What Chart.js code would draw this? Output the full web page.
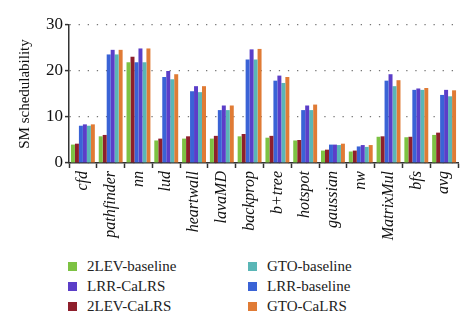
<!DOCTYPE html>
<html>
<head>
<meta charset="utf-8">
<script src="https://cdn.jsdelivr.net/npm/chart.js@4/dist/chart.umd.min.js"></script>
<style>
  html, body { margin: 0; padding: 0; background: #fff; }
  #wrap { position: relative; width: 474px; height: 334px; }
  #chart { position: absolute; left: 0; top: 0; }
  #legend { position: absolute; left: 0; top: 0; font-family: "Liberation Serif", serif; font-size: 15px; color: #222; }
  .item { position: absolute; white-space: nowrap; line-height: 16px; }
  .sw { display: inline-block; width: 9px; height: 9px; margin-right: 10px; vertical-align: 0px; }
</style>
</head>
<body>
<div id="wrap">
  <canvas id="chart" width="474" height="250"></canvas>
  <div id="legend"></div>
</div>
<script>
const categories = ['cfd', 'pathfinder', 'nn', 'lud', 'heartwall', 'lavaMD', 'backprop', 'b+tree', 'hotspot', 'gaussian', 'nw', 'MatrixMul', 'bfs', 'avg'];
const seriesNames = ['2LEV-baseline', '2LEV-CaLRS', 'LRR-baseline', 'LRR-CaLRS', 'GTO-baseline', 'GTO-CaLRS'];
const seriesColors = ['#7dc243', '#8e1f2c', '#3a63d6', '#5b3ec8', '#5ab6b6', '#e07b35'];
const lev2Base  = [4.0, 5.8, 21.9, 4.9, 5.3, 5.3, 5.8, 5.5, 4.9, 2.7, 2.5, 5.7, 5.6, 6.1];
const lev2Calrs = [4.2, 6.1, 23.1, 5.3, 5.8, 5.9, 6.3, 5.9, 5.0, 2.9, 2.7, 5.8, 5.7, 6.6];
const lrrBase   = [8.1, 23.6, 21.9, 18.7, 15.6, 11.5, 22.5, 17.9, 11.5, 4.0, 3.6, 17.9, 15.9, 14.8];
const lrrCalrs  = [8.4, 24.6, 24.9, 20.0, 16.7, 12.5, 24.7, 19.0, 12.5, 4.0, 3.9, 19.3, 16.2, 15.9];
const gtoBase   = [8.1, 23.6, 21.9, 18.2, 15.4, 11.5, 22.5, 17.4, 11.5, 3.9, 3.5, 16.7, 15.9, 14.5];
const gtoCalrs  = [8.4, 24.6, 24.9, 19.3, 16.7, 12.5, 24.8, 18.7, 12.7, 4.2, 3.9, 18.0, 16.3, 15.8];
const seriesValues = [lev2Base, lev2Calrs, lrrBase, lrrCalrs, gtoBase, gtoCalrs];
const yTicks = [0, 5, 10, 15, 20, 25, 30];
// legend is shown in two columns, column-major, in this order
const legendOrder = [0, 3, 1, 4, 2, 5];

const serif = '"Liberation Serif", "Times New Roman", serif';

new Chart(document.getElementById('chart'), {
  type: 'bar',
  data: {
    labels: categories,
    datasets: seriesNames.map((name, i) => ({
      label: name,
      data: seriesValues[i],
      backgroundColor: seriesColors[i],
      borderWidth: 0,
      categoryPercentage: 0.86,
      barPercentage: 1.0
    }))
  },
  options: {
    responsive: false,
    animation: false,
    layout: { padding: { top: 25, right: 16, left: 16, bottom: 0 } },
    plugins: { legend: { display: false }, tooltip: { enabled: false } },
    scales: {
      x: {
        afterFit: (s) => { s.height = 87; },
        grid: { drawOnChartArea: false, drawTicks: true, tickLength: 5, color: '#333', tickWidth: 1.5 },
        border: { color: '#333', width: 1.5 },
        ticks: {
          minRotation: 90, maxRotation: 90, autoSkip: false, padding: 3,
          color: '#111',
          font: { family: serif, size: 16, style: 'italic' }
        }
      },
      y: {
        min: 0, max: 30,
        afterFit: (s) => { s.width = 53; },
        afterBuildTicks: (s) => { s.ticks = yTicks.map((v) => ({ value: v })); },
        grid: { color: '#777', lineWidth: 1.2, tickLength: 4, tickColor: '#333', tickWidth: 1.5, tickBorderDash: [] },
        border: { color: '#333', width: 1.5, dash: [1.3, 7.8] },
        ticks: { color: '#111', padding: 2, font: { family: serif, size: 17 } },
        title: { display: true, text: 'SM schedulability', color: '#111', font: { family: serif, size: 15 }, padding: { top: 0, bottom: 2 } }
      }
    }
  }
});

const legend = document.getElementById('legend');
legendOrder.forEach((idx, k) => {
  const col = Math.floor(k / 3);
  const row = k % 3;
  const div = document.createElement('div');
  div.className = 'item';
  div.style.left = (col === 0 ? 68 : 248) + 'px';
  div.style.top = (258 + row * 20) + 'px';
  div.innerHTML = `<span class="sw" style="background:${seriesColors[idx]}"></span>${seriesNames[idx]}`;
  legend.appendChild(div);
});
</script>
</body>
</html>
